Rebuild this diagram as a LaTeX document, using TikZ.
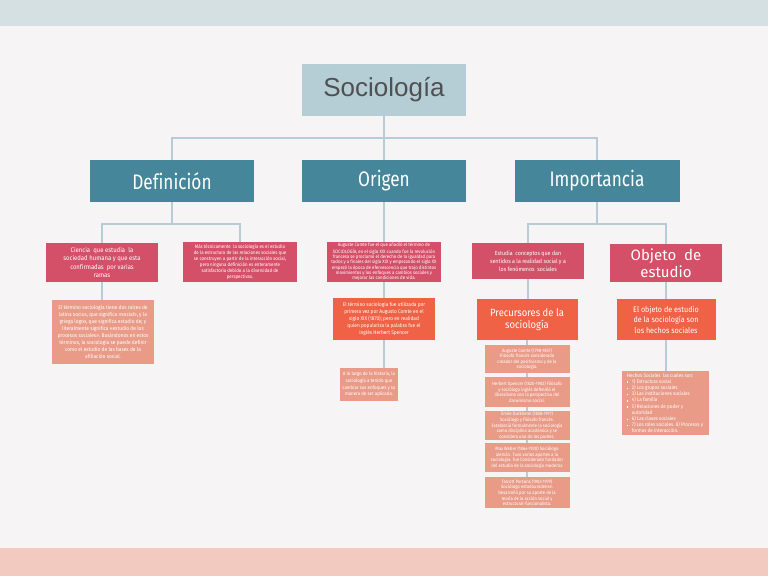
\documentclass[tikz,border=0pt]{standalone}
\usepackage{fontspec}
\setmainfont{Fira Sans}[Ligatures=NoCommon]
\newfontfamily\titlefont{Liberation Sans}
\newfontfamily\condfont[FakeStretch=0.82,Ligatures=NoCommon]{Fira Sans}
\newfontfamily\smallfont[FakeStretch=0.9,Ligatures=NoCommon]{Fira Sans}
\definecolor{bg}{HTML}{F6F4F5}
\definecolor{topband}{HTML}{D5E0E3}
\definecolor{botband}{HTML}{F2CAC0}
\definecolor{titlebox}{HTML}{B5CDD4}
\definecolor{teal}{HTML}{46869A}
\definecolor{crimson}{HTML}{D45068}
\definecolor{orangebox}{HTML}{EF6245}
\definecolor{salmon}{HTML}{E99B88}
\definecolor{connc}{HTML}{B7CCD4}
\definecolor{titletext}{HTML}{4F5052}
\newcommand{\sqb}{\rule[0.3pt]{1.5pt}{1.5pt}\hspace{3.5pt}}
\begin{document}
\begin{tikzpicture}[x=1pt,y=-1pt,
  every node/.style={inner sep=0pt, outer sep=0pt, align=center, text=white},
  conn/.style={draw=connc, line width=1.6pt},
  lvltwo/.style={fill=teal, minimum width=164pt, minimum height=42pt, font=\condfont\fontsize{21}{24}\selectfont},
  redbox/.style={fill=crimson},
  orbox/.style={fill=orangebox},
  salbox/.style={fill=salmon},
  tiny/.style={font=\smallfont\fontsize{4.7}{5.6}\selectfont},
]
\path[use as bounding box, fill=bg] (0,0) rectangle (768,576);
\fill[topband] (0,0) rectangle (768,26);
\fill[botband] (0,548) rectangle (768,576);

% level 1
\node[fill=titlebox, minimum width=164pt, minimum height=52pt, text=titletext,
  font=\titlefont\fontsize{26}{30}\selectfont] (title) at (384,90) {Sociología};

% level 2
\node[lvltwo] (def) at (172,181) {Definición};
\node[lvltwo] (ori) at (384,181) {Origen};
\node[lvltwo, minimum width=165pt] (imp) at (597,181) {\raisebox{4pt}{Importancia}};

% level 3
\node[redbox, minimum width=112pt, minimum height=39pt,
  font=\smallfont\fontsize{6.6}{8.2}\selectfont] (c1) at (102,262.5)
  {Ciencia\ \ que estudia\ \ la\\sociedad humana y que esta\\confirmadas\ \ por varias\\ramas};
\node[redbox, minimum width=114pt, minimum height=40pt,
  font=\smallfont\fontsize{4.9}{6}\selectfont] (c2) at (240,262)
  {Más técnicamente\ \ la sociología es el estudio\\de la estructura de las relaciones sociales que\\se construyen a partir de la interacción social,\\pero ninguna definición es enteramente\\satisfactoria debido a la diversidad de\\perspectivas.};
\node[redbox, minimum width=114pt, minimum height=40pt,
  font=\smallfont\fontsize{4.8}{5.3}\selectfont] (c3) at (384,262)
  {Auguste Comte fue el que añadió el término de\\SOCIOLOGÍA, en el siglo XIX cuando fue la revolución\\francesa se proclamó el derecho de la igualdad para\\todos y a finales del siglo XIX y empezando el siglo XX\\empezó la época de efervescencia que trajo distintos\\movimientos y los enfoques a cambios sociales y\\mejorar las condiciones de vida.};
\node[redbox, minimum width=112pt, minimum height=36pt,
  font=\smallfont\fontsize{5.9}{7.8}\selectfont] (c4) at (528,261)
  {Estudia\ \ conceptos que dan\\sentidos\ a la realidad social y a\\los fenómenos\ \ sociales};
\node[redbox, minimum width=112pt, minimum height=38pt,
  font=\fontsize{15}{17.5}\selectfont] (c5) at (666,263)
  {Objeto\ \ de\\estudio};

% level 4
\node[salbox, minimum width=102pt, minimum height=64pt,
  font=\smallfont\fontsize{5.4}{7}\selectfont] (d1) at (103,332)
  {El término sociología tiene dos raíces de\\latina socius, que significa «social», y la\\griega logos, que significa estudio de; y\\literalmente significa «estudio de los\\procesos sociales». Basándonos en estos\\términos, la sociología se puede definir\\como el estudio de las bases de la\\afiliación social.};
\node[orbox, minimum width=102pt, minimum height=42pt,
  font=\smallfont\fontsize{5.3}{6.9}\selectfont] (d2) at (384,319)
  {El término sociología fue utilizada por\\primera vez por Augusto Comte en el\\siglo XIX (1870); pero en realidad\\quien populariza la palabra fue el\\inglés Herbert Spencer};
\node[orbox, minimum width=101pt, minimum height=41pt,
  font=\smallfont\fontsize{10.5}{12.5}\selectfont] (d3) at (527,319.5)
  {Precursores de la\\sociología};
\node[orbox, minimum width=99pt, minimum height=41pt,
  font=\smallfont\fontsize{8}{10.5}\selectfont] (d4) at (666,319.5)
  {El objeto de estudio\\de la sociología son\\los hechos sociales};

% level 5
\node[salbox, minimum width=58pt, minimum height=33pt,
  font=\smallfont\fontsize{4.9}{6.6}\selectfont] (e1) at (369,384.5)
  {A lo largo de la historia, la\\sociología a tenido que\\cambiar sus enfoques y su\\manera de ser aplicada.};
\node[salbox, minimum width=87pt, minimum height=64pt, align=left,
  font=\smallfont\fontsize{5.1}{6.2}\selectfont] (e2) at (665,403)
  {Hechos Sociales\ \ las cuales son:\\
  \sqb 1) Estructura social\\
  \sqb 2) Los grupos sociales\\
  \sqb 3) Las instituciones sociales\\
  \sqb 4) La familia\\
  \sqb 5) Relaciones de poder y\\
  \hspace{5pt}autoridad\\
  \sqb 6) Las clases sociales\\
  \sqb 7) Los roles sociales. 8) Procesos y\\
  \hspace{5pt}formas de interacción.};

% precursors
\node[salbox, minimum width=85pt, minimum height=28pt, tiny] (p1) at (527,359)
  {Auguste Comte (1798-1857)\\Filósofo francés considerado\\creador del positivismo y de la\\sociología.};
\node[salbox, minimum width=85pt, minimum height=30pt, tiny] (p2) at (527,392)
  {Herbert Spencer (1820-1903) Filósofo\\y sociólogo inglés defendió el\\liberalismo con la perspectiva del\\darwinismo social.};
\node[salbox, minimum width=85pt, minimum height=29pt, tiny] (p3) at (527,425.5)
  {Émile Durkheim (1858-1917)\\Sociólogo y filósofo francés.\\Estableció formalmente la sociología\\como disciplina académica y se\\considera uno de los padres.};
\node[salbox, minimum width=85pt, minimum height=29pt, tiny] (p4) at (527,457.5)
  {Max Weber (1864-1920) Sociólogo\\alemán. Tuvo varios aportes a la\\sociología. fue Considerado fundador\\del estudio de la sociología moderna};
\node[salbox, minimum width=85pt, minimum height=31pt, tiny] (p5) at (527,492.5)
  {Talcott Parsons (1902-1979)\\Sociólogo estadounidense.\\Desarrolló por su aporte de la\\teoría de la acción social y\\estructural-funcionalista.};

% connectors
\coordinate (bus1) at (384,138);
\coordinate (bus2) at (172,224);
\coordinate (bus3) at (597,224);
\draw[conn] (title.south) -- (ori.north);
\draw[conn] (def.north) |- (bus1) -| (imp.north);
\draw[conn] (def.south) -- (bus2);
\draw[conn] (c1.north) |- (bus2) -| (c2.north);
\draw[conn] (ori.south) -- (c3.north);
\draw[conn] (c3.south) -- (d2.north);
\draw[conn] (d2.south) -- (d2.south |- e1.north);
\draw[conn] (c1.south) -- (c1.south |- d1.north);
\draw[conn] (imp.south) -- (bus3);
\draw[conn] (c4.north) |- (bus3) -| (c5.north);
\draw[conn] (c4.south) -- (c4.south |- d3.north);
\draw[conn] (d3.south) -- (p1.north);
\draw[conn] (p1.south) -- (p2.north);
\draw[conn] (p2.south) -- (p3.north);
\draw[conn] (p3.south) -- (p4.north);
\draw[conn] (p4.south) -- (p5.north);
\draw[conn] (c5.south) -- (d4.north);
\draw[conn] (d4.south) -- (d4.south |- e2.north);
\end{tikzpicture}
\end{document}
